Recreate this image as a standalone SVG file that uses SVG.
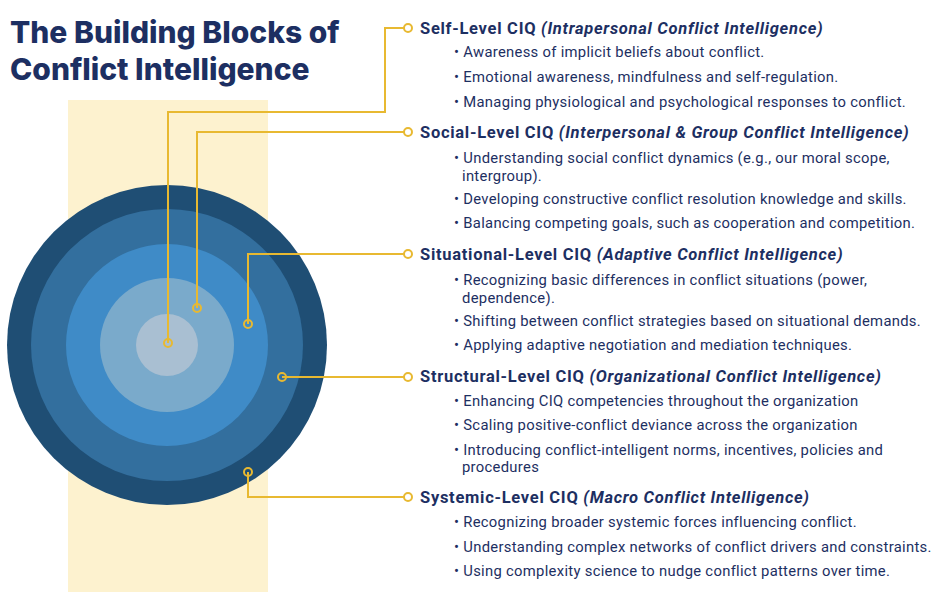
<svg xmlns="http://www.w3.org/2000/svg" width="943" height="610" viewBox="0 0 943 610">
<style>
.t{font-family:Inter,Roboto,sans-serif;font-weight:800;font-size:30px;fill:#1d2f62}
.h{font-family:Roboto,"Liberation Sans",sans-serif;font-weight:700;font-size:16.5px;letter-spacing:0.72px;fill:#1d2f62}
.b{font-family:Roboto,"Liberation Sans",sans-serif;font-size:14.8px;letter-spacing:0.3px;fill:#1d2f62}
.c{fill:none;stroke:#e8b931;stroke-width:2}
.d{fill:none;stroke:#e8b931;stroke-width:2}
</style>
<rect width="943" height="610" fill="#fff"/>
<text class="t" x="10" y="43">The Building Blocks of</text>
<text class="t" x="10" y="80">Conflict Intelligence</text>
<rect x="68" y="100" width="200" height="492" fill="#fdf2cf"/>
<g id="circles">
<circle cx="167" cy="345" r="160" fill="#1f4e74"/>
<circle cx="167" cy="345" r="136" fill="#336f9e"/>
<circle cx="167" cy="345" r="101" fill="#3f8bc7"/>
<circle cx="167" cy="345" r="67" fill="#7aaacb"/>
<circle cx="167" cy="345" r="31" fill="#a9bfd2"/>
</g>
<g id="connectors">
<polyline class="c" points="168,343 168,112 385,112 385,28 404,28"/>
<polyline class="c" points="197,308 197,132 404,132"/>
<polyline class="c" points="248,324 248,254 404,254"/>
<polyline class="c" points="282,377 404,377"/>
<polyline class="c" points="248,472 248,497 404,497"/>
<circle class="d" cx="168" cy="343" r="4" fill="#a9a070"/>
<circle class="d" cx="197" cy="308" r="4" fill="#7aaacb"/>
<circle class="d" cx="248" cy="324" r="4" fill="#3f8bc7"/>
<circle class="d" cx="282" cy="377" r="4" fill="#336f9e"/>
<circle class="d" cx="248" cy="472" r="4" fill="#1f4e74"/>
<circle class="d" cx="408" cy="28" r="4" fill="#fff"/>
<circle class="d" cx="408" cy="132" r="4" fill="#fff"/>
<circle class="d" cx="408" cy="254" r="4" fill="#fff"/>
<circle class="d" cx="408" cy="377" r="4" fill="#fff"/>
<circle class="d" cx="408" cy="497" r="4" fill="#fff"/>
</g>
<g id="self">
<text class="h" x="420" y="34">Self-Level CIQ <tspan font-style="italic">(Intrapersonal Conflict Intelligence)</tspan></text>
<text class="b" x="454" y="57">• Awareness of implicit beliefs about conflict.</text>
<text class="b" x="454" y="82">• Emotional awareness, mindfulness and self-regulation.</text>
<text class="b" x="454" y="107">• Managing physiological and psychological responses to conflict.</text>
</g>
<g id="social">
<text class="h" x="420" y="138">Social-Level CIQ <tspan font-style="italic">(Interpersonal &amp; Group Conflict Intelligence)</tspan></text>
<text class="b" x="454" y="163">• Understanding social conflict dynamics (e.g., our moral scope,</text>
<text class="b" x="462" y="181">intergroup).</text>
<text class="b" x="454" y="204">• Developing constructive conflict resolution knowledge and skills.</text>
<text class="b" x="454" y="228">• Balancing competing goals, such as cooperation and competition.</text>
</g>
<g id="situational">
<text class="h" x="420" y="260">Situational-Level CIQ <tspan font-style="italic">(Adaptive Conflict Intelligence)</tspan></text>
<text class="b" x="454" y="285">• Recognizing basic differences in conflict situations (power,</text>
<text class="b" x="462" y="303">dependence).</text>
<text class="b" x="454" y="326">• Shifting between conflict strategies based on situational demands.</text>
<text class="b" x="454" y="350">• Applying adaptive negotiation and mediation techniques.</text>
</g>
<g id="structural">
<text class="h" x="420" y="382">Structural-Level CIQ <tspan font-style="italic">(Organizational Conflict Intelligence)</tspan></text>
<text class="b" x="454" y="406">• Enhancing CIQ competencies throughout the organization</text>
<text class="b" x="454" y="430">• Scaling positive-conflict deviance across the organization</text>
<text class="b" x="454" y="455">• Introducing conflict-intelligent norms, incentives, policies and</text>
<text class="b" x="462" y="472">procedures</text>
</g>
<g id="systemic">
<text class="h" x="420" y="503">Systemic-Level CIQ <tspan font-style="italic">(Macro Conflict Intelligence)</tspan></text>
<text class="b" x="454" y="527">• Recognizing broader systemic forces influencing conflict.</text>
<text class="b" x="454" y="552">• Understanding complex networks of conflict drivers and constraints.</text>
<text class="b" x="454" y="576">• Using complexity science to nudge conflict patterns over time.</text>
</g>
</svg>
